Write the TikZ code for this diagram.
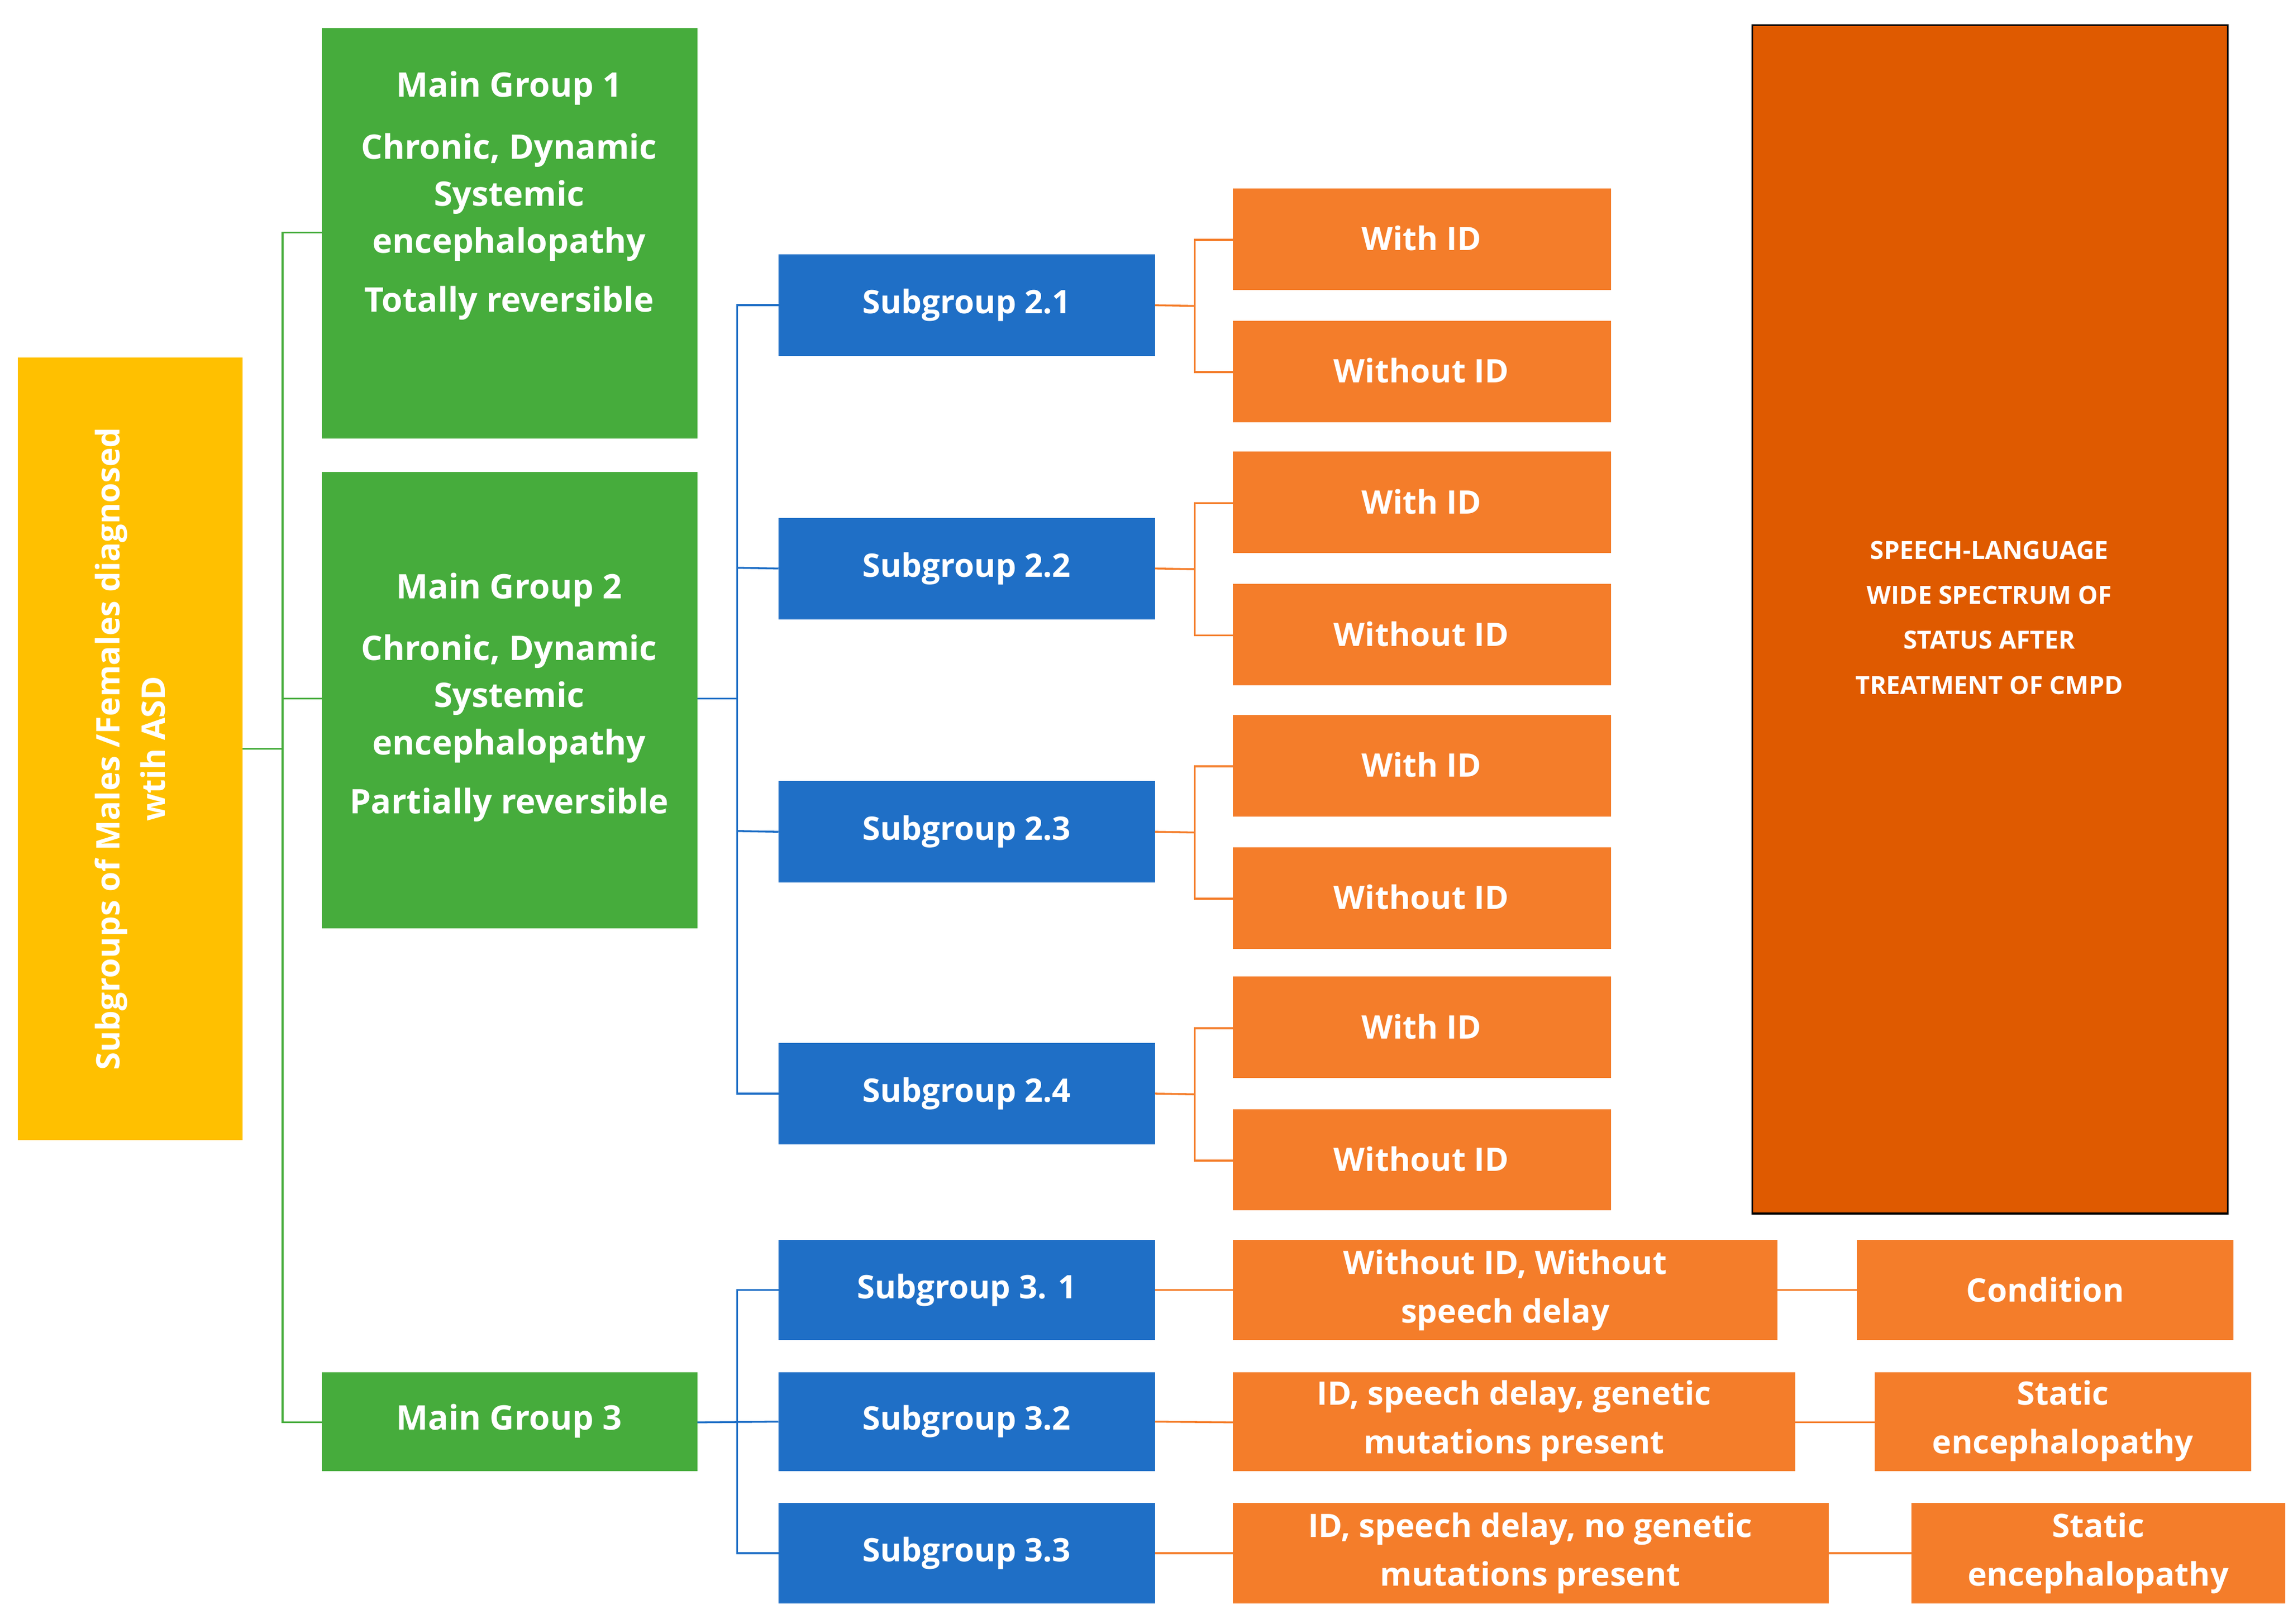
\documentclass[tikz,border=0pt]{standalone}
\usepackage{fontspec}
\setmainfont{Open Sans}
\begin{document}
\begin{tikzpicture}[x=1pt,y=-1pt,
 bx/.style={draw=none,inner sep=0pt,text=white,font=\bfseries\fontsize{22}{31}\selectfont,align=center},
 ln/.style={line width=1.3pt}]
\definecolor{G}{HTML}{46AC3C}\definecolor{B}{HTML}{1F6FC6}\definecolor{O}{HTML}{F47D2A}
\definecolor{Y}{HTML}{FFC000}\definecolor{R}{HTML}{DF5A00}
\useasboundingbox (0,0) rectangle (1555,1104);
% yellow
\fill[Y] (12,243) rectangle (165,775);
\node[bx,rotate=90] (y) at (88.5,509) {Subgroups of Males /Females diagnosed\\wtih ASD};
\coordinate (yr) at (165,509);
% greens
\fill[G] (219,19) rectangle (474,298);
\node[bx,font=\bfseries\fontsize{23}{32}\selectfont] (m1) at (346,133) {Main Group 1\\[10pt]Chronic, Dynamic\\Systemic\\encephalopathy\\[8pt]Totally reversible};
\fill[G] (219,321) rectangle (474,631);
\node[bx,font=\bfseries\fontsize{23}{32}\selectfont] (m2) at (346,474) {Main Group 2\\[10pt]Chronic, Dynamic\\Systemic\\encephalopathy\\[8pt]Partially reversible};
\fill[G] (219,933) rectangle (474,1000);
\node[bx,font=\bfseries\fontsize{23}{32}\selectfont] (m3) at (346,966) {Main Group 3};
\coordinate (m1l) at (219,158); \coordinate (m2l) at (219,475); \coordinate (m3l) at (219,967);
\draw[G,ln] (yr) -- (192,509);
\draw[G,ln] (m1l) -| (192,509) |- (m3l);
\draw[G,ln] (192,475) -- (m2l);
% blue subgroups
\foreach \n/\t/\ya/\yb in {21/Subgroup 2.1/173/242,22/Subgroup 2.2/352/421,23/Subgroup 2.3/531/600,24/Subgroup 2.4/709/778,31/Subgroup 3. 1/843/911,32/Subgroup 3.2/933/1000,33/Subgroup 3.3/1022/1090}{
 \fill[B] (529,\ya) rectangle (785,\yb);
 \node[bx] (s\n) at (657,{(\ya+\yb)/2}) {\t};
 \coordinate (sl\n) at (529,{(\ya+\yb)/2});
 \coordinate (sr\n) at (785,{(\ya+\yb)/2});}
\draw[B,ln] (474,475) -- (501,475);
\draw[B,ln] (sl21) -| (501,475) |- (sl24);
\draw[B,ln] (501,386) -- (sl22); \draw[B,ln] (501,565) -- (sl23);
\draw[B,ln] (474,967) -- (sl32);
\draw[B,ln] (sl31) -| (501,967) |- (sl33);
% orange ID boxes
\foreach \n/\ya in {21/128,22/307,23/486,24/664}{
 \fill[O] (838,\ya) rectangle (1095,\ya+69);
 \node[bx] (w\n) at (966,\ya+34) {With ID};
 \fill[O] (838,\ya+90) rectangle (1095,\ya+159);
 \node[bx] (wo\n) at (966,\ya+124) {Without ID};
 \draw[O,ln] (sr\n) -- (812,\ya+80);
 \draw[O,ln] (838,\ya+35) -| (812,\ya+80) |- (838,\ya+125);}
% big box
\fill[R] (1191,17) rectangle (1514,825); \draw[line width=1.3pt] (1191,17) rectangle (1514,825);
\node[bx,font=\bfseries\fontsize{17}{30.5}\selectfont] (big) at (1352,420) {SPEECH-LANGUAGE\\WIDE SPECTRUM OF\\STATUS AFTER\\TREATMENT OF CMPD};
% group 3 rows
\tikzset{two/.style={font=\bfseries\fontsize{22}{33}\selectfont}}
\fill[O] (838,843) rectangle (1208,911); \node[bx,two] (c1) at (1023,877) {Without ID, Without\\speech delay};
\fill[O] (1262,843) rectangle (1518,911); \node[bx] (d1) at (1390,877) {Condition};
\fill[O] (838,933) rectangle (1220,1000); \node[bx,two] (c2) at (1029,966) {ID, speech delay, genetic\\mutations present};
\fill[O] (1274,933) rectangle (1530,1000); \node[bx,two] (d2) at (1402,966) {Static\\encephalopathy};
\fill[O] (838,1022) rectangle (1243,1090); \node[bx,two] (c3) at (1040,1056) {ID, speech delay, no genetic\\mutations present};
\fill[O] (1299,1022) rectangle (1553,1090); \node[bx,two] (d3) at (1426,1056) {Static\\encephalopathy};
\draw[O,ln] (sr31) -- (838,877); \draw[O,ln] (1208,877) -- (1262,877);
\draw[O,ln] (sr32) -- (838,967); \draw[O,ln] (1220,967) -- (1274,967);
\draw[O,ln] (sr33) -- (838,1056); \draw[O,ln] (1243,1056) -- (1299,1056);
\end{tikzpicture}
\end{document}
